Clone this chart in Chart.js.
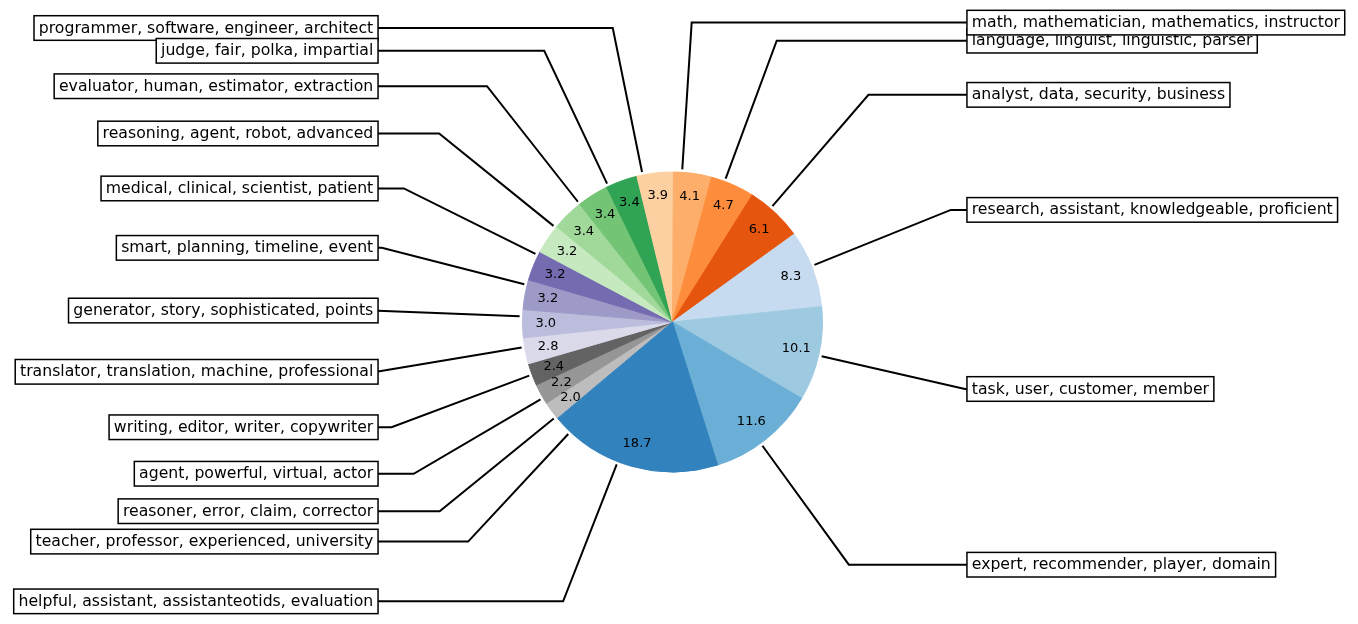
<!DOCTYPE html>
<html>
<head>
<meta charset="utf-8">
<title>Role keyword clusters</title>
<script src="https://cdn.jsdelivr.net/npm/chart.js@4.4.1/dist/chart.umd.min.js"></script>
<style>
  html, body { margin: 0; padding: 0; background: #fff; }
  #wrap { width: 1358px; height: 624px; }
</style>
</head>
<body>
<div id="wrap"><canvas id="pieChart" width="1358" height="624"></canvas></div>
<script>
// keyword clusters, largest first (counter-clockwise order of the pie)
const topics = [
  'helpful, assistant, assistanteotids, evaluation',
  'expert, recommender, player, domain',
  'task, user, customer, member',
  'research, assistant, knowledgeable, proficient',
  'analyst, data, security, business',
  'language, linguist, linguistic, parser',
  'math, mathematician, mathematics, instructor',
  'programmer, software, engineer, architect',
  'judge, fair, polka, impartial',
  'evaluator, human, estimator, extraction',
  'reasoning, agent, robot, advanced',
  'medical, clinical, scientist, patient',
  'smart, planning, timeline, event',
  'generator, story, sophisticated, points',
  'translator, translation, machine, professional',
  'writing, editor, writer, copywriter',
  'agent, powerful, virtual, actor',
  'reasoner, error, claim, corrector',
  'teacher, professor, experienced, university'
];
const shares = [18.7, 11.6, 10.1, 8.3, 6.1, 4.7, 4.1, 3.9, 3.4, 3.4, 3.4, 3.2, 3.2, 3.2, 3.0, 2.8, 2.4, 2.2, 2.0];
// tab20c
const colors = ['#3182bd', '#6baed6', '#9ecae1', '#c6dbef', '#e6550d', '#fd8d3c', '#fdae6b', '#fdd0a2',
  '#31a354', '#74c476', '#a1d99b', '#c7e9c0', '#756bb1', '#9e9ac8', '#bcbddc', '#dadaeb',
  '#636363', '#969696', '#bdbdbd'];

const FONT = '"DejaVu Sans", sans-serif';
const START_DEG = 220;      // first wedge starts here, ccw from 3 o'clock
const LEAD_SHIFT = -6.8;    // leader anchors are spread a bit wider than the wedges
const LEAD_STRETCH = 1.049;

// Chart.js goes clockwise, so feed it the reversed lists
const cwLabels = topics.slice().reverse();
const cwValues = shares.slice().reverse();
const cwColors = colors.slice().reverse();

const callouts = {
  id: 'callouts',
  afterDatasetsDraw(chart) {
    const ctx = chart.ctx;
    const arcs = chart.getDatasetMeta(0).data;
    const values = chart.data.datasets[0].data;
    ctx.save();

    // value labels inside the wedges
    ctx.font = '13px ' + FONT;
    ctx.fillStyle = '#000';
    ctx.textAlign = 'center';
    ctx.textBaseline = 'middle';
    arcs.forEach((arc, i) => {
      const p = arc.getProps(['x', 'y', 'startAngle', 'endAngle', 'outerRadius'], true);
      const mid = (p.startAngle + p.endAngle) / 2;
      const d = p.outerRadius * 0.845;
      ctx.fillText(values[i].toFixed(1), p.x + Math.cos(mid) * d, p.y + Math.sin(mid) * d);
    });

    // leader lines + boxed labels, drawn largest first
    const pad = 4.8, h = 24.6;
    ctx.font = '15.7px ' + FONT;
    ctx.textAlign = 'left';
    for (let i = arcs.length - 1; i >= 0; i--) {
      const p = arcs[i].getProps(['x', 'y', 'startAngle', 'endAngle', 'outerRadius'], true);
      const r = p.outerRadius;
      const midDeg = -((p.startAngle + p.endAngle) / 2) * 180 / Math.PI;
      const prog = (((midDeg - START_DEG) % 360) + 360) % 360;
      const a = (START_DEG + LEAD_SHIFT + prog * LEAD_STRETCH) * Math.PI / 180;
      const ca = Math.cos(a), sa = Math.sin(a);
      const left = ca < 0;
      const px = p.x + ca * (r + 3), py = p.y - sa * (r + 3);
      const ly = p.y - 2 * r * sa;
      const edgeX = p.x + (left ? -1 : 1) * 1.963 * r;

      let t = Math.abs(sa) > 1e-6 ? (py - ly) / sa : 1e6;
      if (t < 0) t = 0;
      const kx = px + t * ca;
      const pts = [[px, py]];
      if ((left && kx < edgeX) || (!left && kx > edgeX)) {
        const s = (edgeX - px) / ca;
        pts.push([edgeX, py - s * sa]);
      } else {
        pts.push([kx, ly], [edgeX, ly]);
      }
      ctx.beginPath();
      ctx.moveTo(pts[0][0], pts[0][1]);
      for (let k = 1; k < pts.length; k++) ctx.lineTo(pts[k][0], pts[k][1]);
      ctx.strokeStyle = '#000';
      ctx.lineWidth = 2;
      ctx.lineJoin = 'miter';
      ctx.stroke();

      const text = chart.data.labels[i];
      const w = ctx.measureText(text).width + 2 * pad;
      const bx = left ? edgeX - w : edgeX;
      ctx.fillStyle = '#fff';
      ctx.fillRect(bx, ly - h / 2, w, h);
      ctx.lineWidth = 1.5;
      ctx.strokeRect(bx, ly - h / 2, w, h);
      ctx.fillStyle = '#000';
      ctx.fillText(text, bx + pad, ly + 0.5);
    }
    ctx.restore();
  }
};

new Chart(document.getElementById('pieChart'), {
  type: 'pie',
  data: {
    labels: cwLabels,
    datasets: [{
      data: cwValues,
      backgroundColor: cwColors,
      borderColor: cwColors,
      borderWidth: 1
    }]
  },
  options: {
    responsive: false,
    animation: false,
    devicePixelRatio: 1,
    rotation: 90 - START_DEG,
    radius: 150,
    layout: { padding: { left: 522, right: 535, top: 172, bottom: 152 } },
    plugins: {
      legend: { display: false },
      tooltip: { enabled: false }
    }
  },
  plugins: [callouts]
});
</script>
</body>
</html>
